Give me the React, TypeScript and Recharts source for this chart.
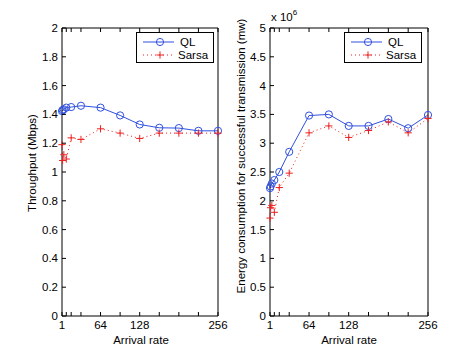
import React from 'react';
import { LineChart, Line, XAxis, YAxis, Customized } from 'recharts';

const arrivalRates = [1, 2, 4, 8, 16, 32, 64, 96, 128, 160, 192, 224, 256];
const qlThroughput = [1.423, 1.43, 1.435, 1.447, 1.451, 1.46, 1.447, 1.393, 1.33, 1.307, 1.305, 1.286, 1.286];
const sarsaThroughput = [1.19, 1.08, 1.12, 1.09, 1.237, 1.226, 1.3, 1.27, 1.233, 1.27, 1.27, 1.27, 1.27];
const qlEnergy = [2.22, 2.25, 2.3, 2.36, 2.5, 2.85, 3.48, 3.5, 3.3, 3.3, 3.42, 3.26, 3.49];
const sarsaEnergy = [1.7, 1.88, 1.92, 1.8, 2.23, 2.48, 3.18, 3.3, 3.1, 3.22, 3.37, 3.18, 3.43];

const xTicks = [1, 8, 16, 32, 64, 96, 128, 160, 192, 224, 256];
const xLabelTicks = [1, 64, 128, 256];
const throughputTicks = [0, 0.2, 0.4, 0.6, 0.8, 1, 1.2, 1.4, 1.6, 1.8, 2];
const energyTicks = [0, 0.5, 1, 1.5, 2, 2.5, 3, 3.5, 4, 4.5, 5];
const seriesNames = ['QL', 'Sarsa'];

const throughputData = arrivalRates.map((x, i) => ({ x, ql: qlThroughput[i], sarsa: sarsaThroughput[i] }));
const energyData = arrivalRates.map((x, i) => ({ x, ql: qlEnergy[i], sarsa: sarsaEnergy[i] }));

const FONT = 'Liberation Sans, Arial, Helvetica, sans-serif';
const FS = 11.5;
const BLUE = '#3050e0';
const RED = '#ee2020';
const TICK = 4;

const YW = 20;
const XH = 20;
const TOPH = 8;
const RW = 8;

const XTickBottom = (props: any) => {
  const { x, y, payload } = props;
  const show = xLabelTicks.includes(payload.value);
  return (
    <g>
      <line x1={x} y1={y} x2={x} y2={y - TICK} stroke="#000" />
      {show && (
        <text x={x} y={y + 13} textAnchor="middle" fontSize={FS} fontFamily={FONT} fill="#000">
          {payload.value}
        </text>
      )}
    </g>
  );
};

const XTickTop = (props: any) => {
  const { x, y } = props;
  return <line x1={x} y1={y} x2={x} y2={y + TICK} stroke="#000" />;
};

const YTickLeft = (props: any) => {
  const { x, y, payload } = props;
  return (
    <g>
      <line x1={x} y1={y} x2={x + TICK} y2={y} stroke="#000" />
      <text x={x - 4} y={y + 4} textAnchor="end" fontSize={FS} fontFamily={FONT} fill="#000">
        {String(payload.value)}
      </text>
    </g>
  );
};

const YTickRight = (props: any) => {
  const { x, y } = props;
  return <line x1={x} y1={y} x2={x - TICK} y2={y} stroke="#000" />;
};

const CircleDot = (props: any) => {
  const { cx, cy, index } = props;
  if (cx == null || cy == null) return <g key={index} />;
  return <circle key={index} cx={cx} cy={cy} r={3.6} stroke={BLUE} strokeWidth={1} fill="none" />;
};

const PlusDot = (props: any) => {
  const { cx, cy, index } = props;
  if (cx == null || cy == null) return <g key={index} />;
  const s = 3.6;
  return (
    <path
      key={index}
      d={`M${cx - s},${cy}L${cx + s},${cy}M${cx},${cy - s}L${cx},${cy + s}`}
      stroke={RED}
      strokeWidth={1}
      fill="none"
    />
  );
};

const LegendSvg = ({ left, top }: { left: number; top: number }) => (
  <g transform={`translate(${left},${top})`}>
    <rect x={0.5} y={0.5} width={77} height={30} fill="#fff" stroke="#000" strokeWidth={1} />
    <line x1={7} y1={10} x2={38} y2={10} stroke={BLUE} strokeWidth={1} />
    <circle cx={24} cy={10} r={3.6} stroke={BLUE} fill="none" />
    <text x={44} y={14} fontSize={FS} fontFamily={FONT} fill="#000">{seriesNames[0]}</text>
    <line x1={7} y1={23} x2={38} y2={23} stroke={RED} strokeWidth={1} strokeDasharray="1 3" />
    <path d="M20.4,23L27.6,23M24,19.4L24,26.6" stroke={RED} fill="none" />
    <text x={42} y={27} fontSize={FS} fontFamily={FONT} fill="#000">{seriesNames[1]}</text>
  </g>
);

const LeftExtras = () => (
  <g>
    <text
      x={0}
      y={0}
      transform="translate(36,163) rotate(-90)"
      textAnchor="middle"
      fontSize={FS}
      fontFamily={FONT}
      fill="#000"
    >
      Throughput (Mbps)
    </text>
    <text x={141} y={344} textAnchor="middle" fontSize={FS} fontFamily={FONT} fill="#000">
      Arrival rate
    </text>
    <LegendSvg left={136} top={32} />
  </g>
);

const RightExtras = () => (
  <g>
    <text
      x={0}
      y={0}
      transform="translate(15,156) rotate(-90)"
      textAnchor="middle"
      fontSize={FS}
      fontFamily={FONT}
      fill="#000"
    >
      Energy consumption for successful transmission (mw)
    </text>
    <text x={119} y={344} textAnchor="middle" fontSize={FS} fontFamily={FONT} fill="#000">
      Arrival rate
    </text>
    <text x={41} y={21} fontSize={FS} fontFamily={FONT} fill="#000">
      x 10
      <tspan dy={-6} fontSize={8}>6</tspan>
    </text>
    <LegendSvg left={114} top={32} />
  </g>
);

const Panel = ({ data, width, plot, yDomain, yTicks, extras }: any) => {
  const margin = {
    top: plot.top - TOPH,
    left: plot.left - YW,
    right: width - plot.right - RW,
    bottom: 355 - plot.bottom - XH,
  };
  return (
    <LineChart width={width} height={355} data={data} margin={margin}>
      <XAxis
        dataKey="x"
        type="number"
        domain={[1, 256]}
        ticks={xTicks}
        interval={0}
        height={XH}
        tickSize={0}
        tickMargin={0}
        tickLine={false}
        axisLine={{ stroke: '#000' }}
        tick={<XTickBottom />}
      />
      <XAxis
        xAxisId="top"
        orientation="top"
        dataKey="x"
        type="number"
        domain={[1, 256]}
        ticks={xTicks}
        interval={0}
        height={TOPH}
        tickSize={0}
        tickMargin={0}
        tickLine={false}
        axisLine={{ stroke: '#000' }}
        tick={<XTickTop />}
      />
      <YAxis
        type="number"
        domain={yDomain}
        ticks={yTicks}
        interval={0}
        width={YW}
        tickSize={0}
        tickMargin={0}
        tickLine={false}
        axisLine={{ stroke: '#000' }}
        tick={<YTickLeft />}
      />
      <YAxis
        yAxisId="right"
        orientation="right"
        type="number"
        domain={yDomain}
        ticks={yTicks}
        interval={0}
        width={RW}
        tickSize={0}
        tickMargin={0}
        tickLine={false}
        axisLine={{ stroke: '#000' }}
        tick={<YTickRight />}
      />
      <Line dataKey="ql" name={seriesNames[0]} stroke={BLUE} strokeWidth={1} dot={CircleDot} isAnimationActive={false} />
      <Line
        dataKey="sarsa"
        name={seriesNames[1]}
        stroke={RED}
        strokeWidth={1}
        strokeDasharray="1 3"
        dot={PlusDot}
        isAnimationActive={false}
      />
      <Customized component={extras} />
    </LineChart>
  );
};

export default function App() {
  return (
    <div style={{ position: 'absolute', left: 0, top: 0, width: 474, height: 355, background: '#fff' }}>
      <div style={{ position: 'absolute', left: 0, top: 0 }}>
        <Panel
          data={throughputData}
          width={237}
          plot={{ left: 62, right: 218, top: 28, bottom: 316 }}
          yDomain={[0, 2]}
          yTicks={throughputTicks}
          extras={LeftExtras}
        />
      </div>
      <div style={{ position: 'absolute', left: 230, top: 0 }}>
        <Panel
          data={energyData}
          width={244}
          plot={{ left: 40, right: 198, top: 28, bottom: 316 }}
          yDomain={[0, 5]}
          yTicks={energyTicks}
          extras={RightExtras}
        />
      </div>
    </div>
  );
}
